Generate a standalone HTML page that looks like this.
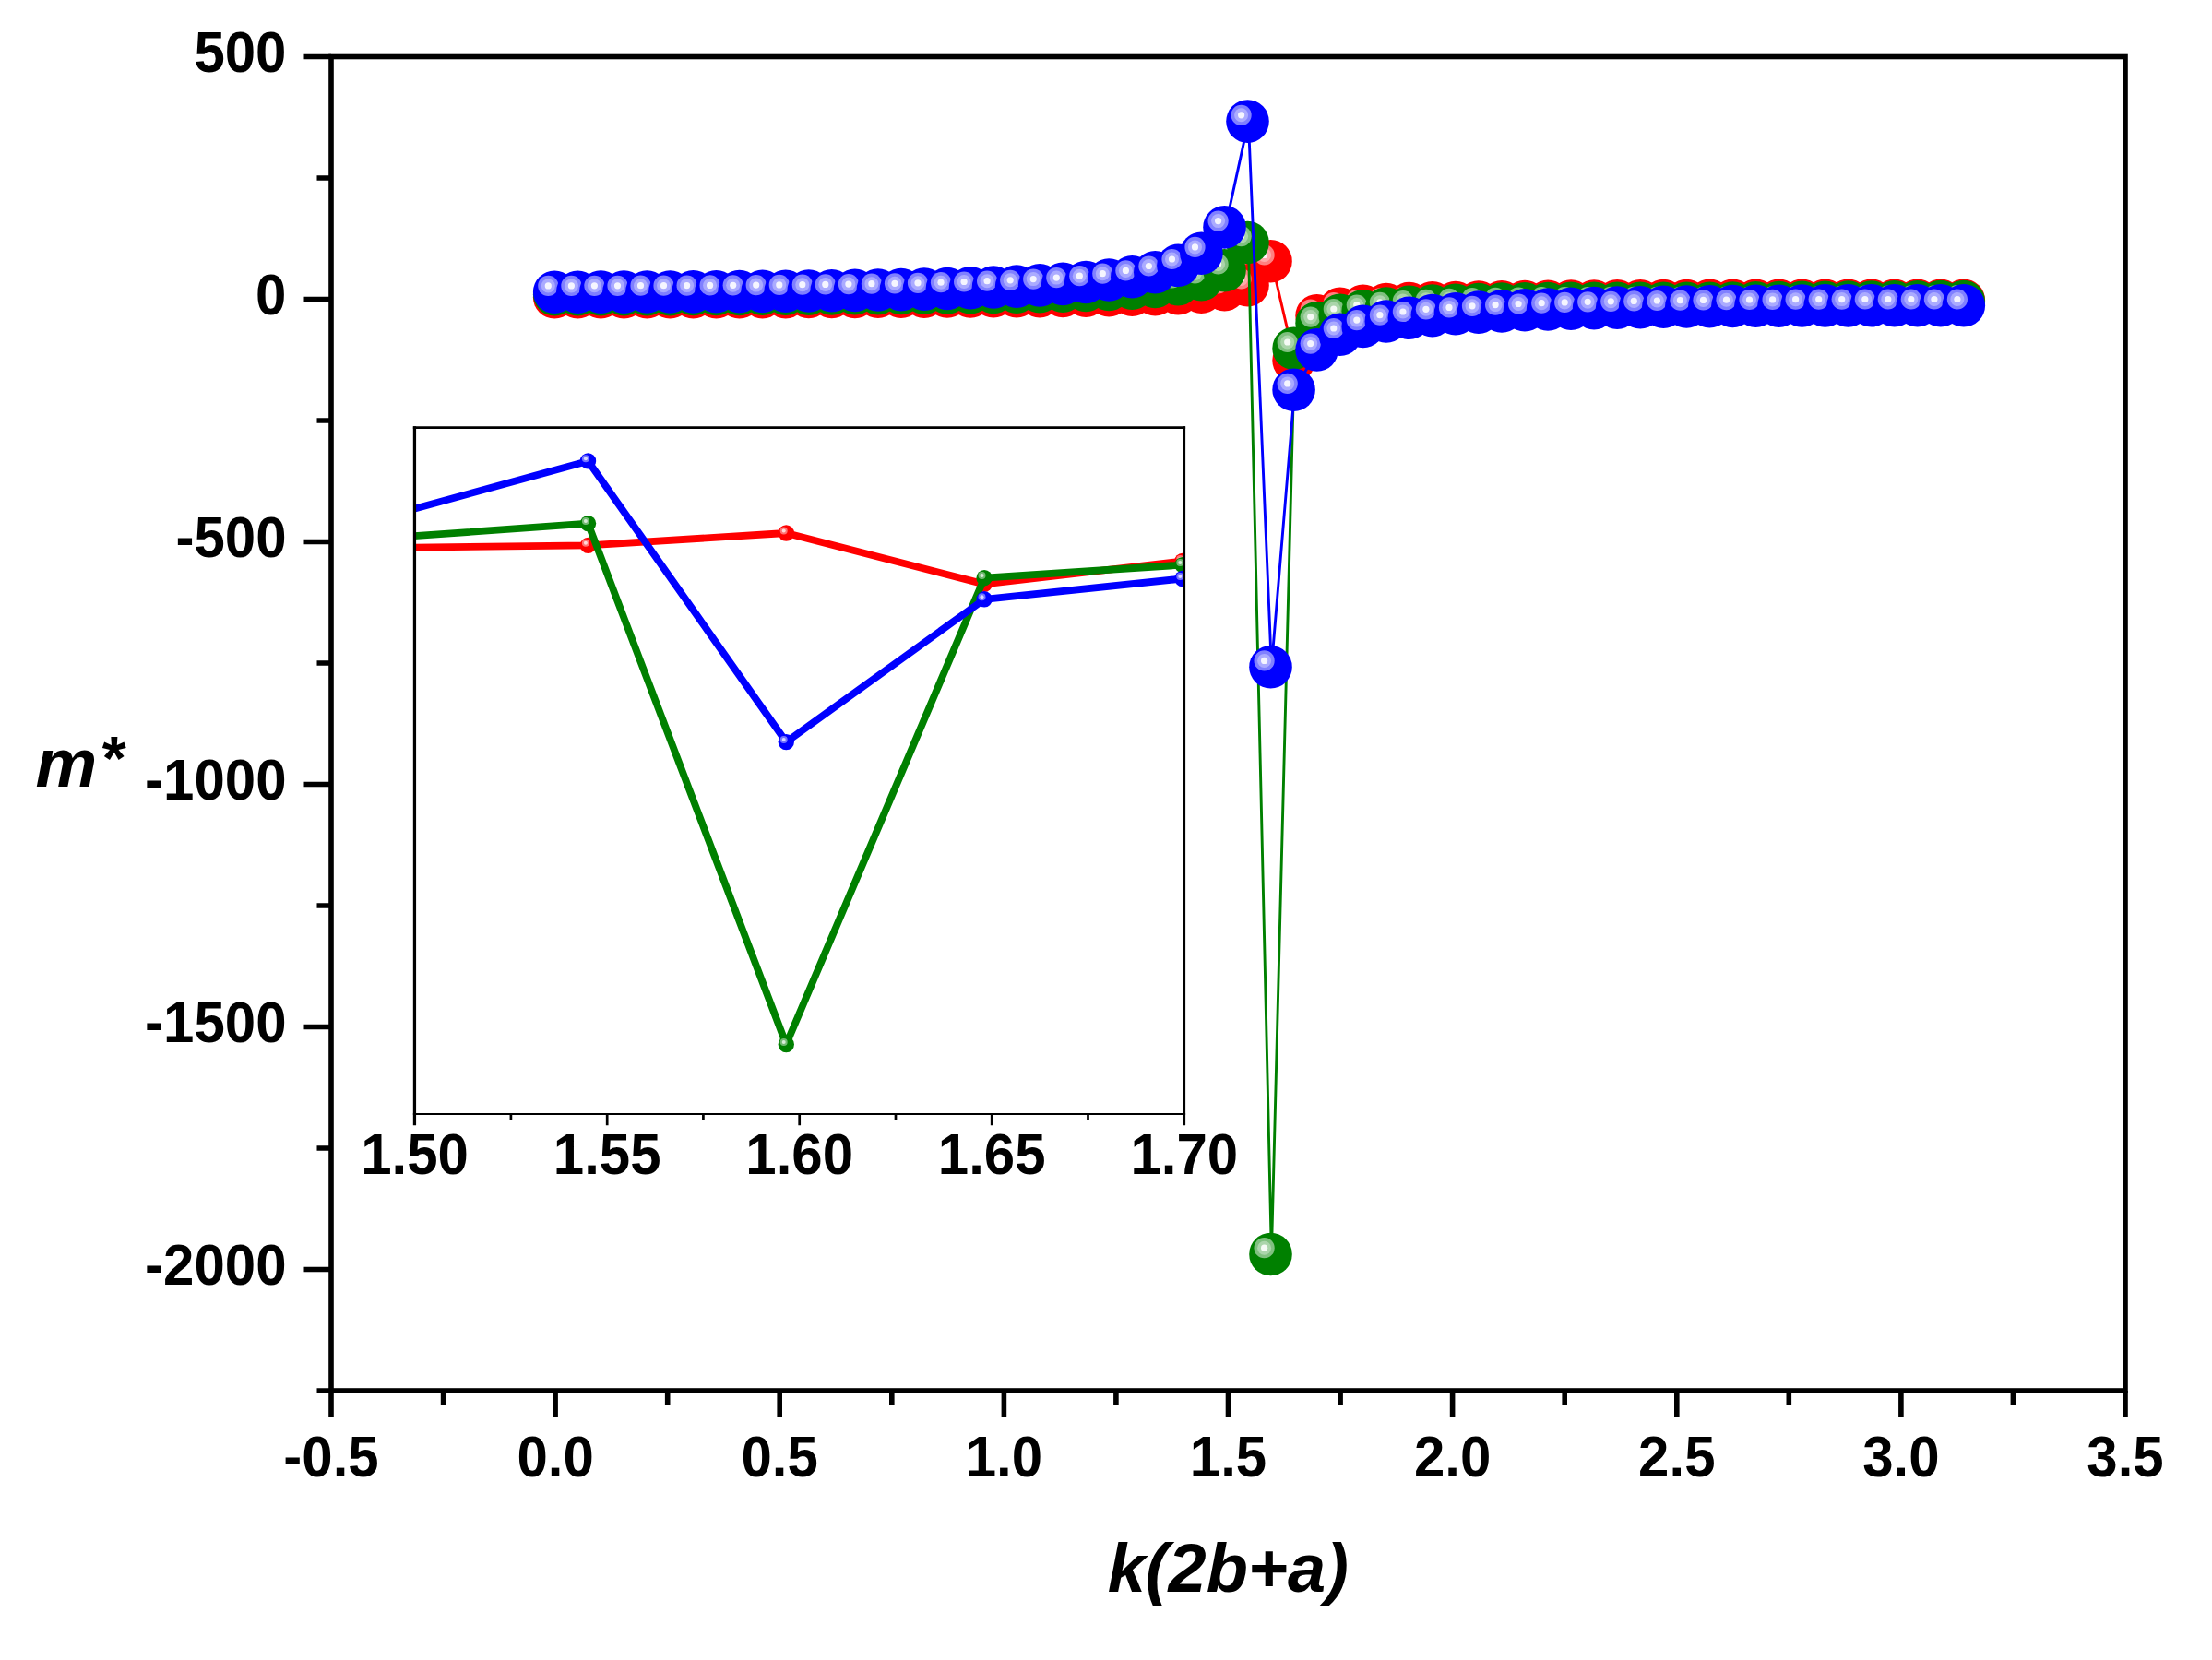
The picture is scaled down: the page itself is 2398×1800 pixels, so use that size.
<!DOCTYPE html>
<html lang="en"><head><meta charset="utf-8"><title>m* versus k(2b+a)</title>
<style>
html,body{margin:0;padding:0;background:#fff;}
body{width:2398px;height:1800px;overflow:hidden;}
svg{display:block;}
text{font-family:"Liberation Sans",Arial,Helvetica,sans-serif;font-weight:bold;fill:#000;}
.tk{font-size:60px;}
.ti{font-size:75px;font-style:italic;}
.ax{stroke:#000;fill:none;stroke-linecap:butt;}
</style></head><body>
<svg width="2398" height="1800" viewBox="0 0 2398 1800">
<rect x="0" y="0" width="2398" height="1800" fill="#fff"/>
<defs>
<g id="Br">
<circle r="23.3" fill="#ff0000"/>
<circle cx="-6.9" cy="-6.8" r="11.1" fill="#ff8080"/>
<circle cx="-6.9" cy="-6.8" r="7.5" fill="#ffabab"/>
<circle cx="-6.9" cy="-6.8" r="3.6" fill="#fff5f5"/>
</g>
<g id="Sr">
<circle r="8.7" fill="#ff0000"/>
<circle cx="-2.6" cy="-2.6" r="4.0" fill="#ff7373"/>
<circle cx="-2.6" cy="-2.6" r="2.0" fill="#ffd9d9"/>
</g>
<g id="Bg">
<circle r="23.3" fill="#008000"/>
<circle cx="-6.9" cy="-6.8" r="11.1" fill="#80c080"/>
<circle cx="-6.9" cy="-6.8" r="7.5" fill="#abd5ab"/>
<circle cx="-6.9" cy="-6.8" r="3.6" fill="#f5faf5"/>
</g>
<g id="Sg">
<circle r="8.7" fill="#008000"/>
<circle cx="-2.6" cy="-2.6" r="4.0" fill="#73b973"/>
<circle cx="-2.6" cy="-2.6" r="2.0" fill="#d9ecd9"/>
</g>
<g id="Bb">
<circle r="23.3" fill="#0000ff"/>
<circle cx="-6.9" cy="-6.8" r="11.1" fill="#8080ff"/>
<circle cx="-6.9" cy="-6.8" r="7.5" fill="#ababff"/>
<circle cx="-6.9" cy="-6.8" r="3.6" fill="#f5f5ff"/>
</g>
<g id="Sb">
<circle r="8.7" fill="#0000ff"/>
<circle cx="-2.6" cy="-2.6" r="4.0" fill="#7373ff"/>
<circle cx="-2.6" cy="-2.6" r="2.0" fill="#d9d9ff"/>
</g>
<clipPath id="cm"><rect x="359.0" y="61.5" width="1945.0" height="1446.5"/></clipPath>
<clipPath id="ci"><rect x="449.6" y="463.0" width="834.2" height="744.5"/></clipPath>
</defs>
<g clip-path="url(#cm)">
<polyline points="602.1,322.3 627.2,322.3 652.2,322.3 677.3,322.3 702.3,322.3 727.3,322.3 752.4,322.2 777.4,322.2 802.5,322.2 827.5,322.1 852.6,322.1 877.6,322.0 902.6,322.0 927.7,321.9 952.7,321.8 977.8,321.7 1002.8,321.6 1027.8,321.5 1052.9,321.4 1077.9,321.3 1103.0,321.2 1128.0,321.1 1153.1,320.9 1178.1,320.6 1203.1,320.3 1228.2,319.8 1253.2,319.2 1278.3,318.2 1303.3,316.7 1328.4,314.1 1353.4,309.2 1378.4,283.2 1403.5,390.8 1428.5,342.4 1453.6,334.9 1478.6,331.8 1503.7,330.1 1528.7,329.1 1553.7,328.4 1578.8,328.0 1603.8,327.6 1628.9,327.3 1653.9,327.0 1679.0,326.8 1704.0,326.6 1729.0,326.5 1754.1,326.3 1779.1,326.2 1804.2,326.1 1829.2,326.0 1854.3,325.9 1879.3,325.9 1904.3,325.8 1929.4,325.8 1954.4,325.8 1979.5,325.7 2004.5,325.7 2029.6,325.7 2054.6,325.7 2079.6,325.7 2104.7,325.7 2129.7,325.7" fill="none" stroke="#ff0000" stroke-width="2.9" stroke-linejoin="round"/>
<use href="#Br" x="601.2" y="322.3"/>
<use href="#Br" x="626.3" y="322.3"/>
<use href="#Br" x="651.3" y="322.3"/>
<use href="#Br" x="676.4" y="322.3"/>
<use href="#Br" x="701.4" y="322.3"/>
<use href="#Br" x="726.4" y="322.3"/>
<use href="#Br" x="751.5" y="322.2"/>
<use href="#Br" x="776.5" y="322.2"/>
<use href="#Br" x="801.6" y="322.2"/>
<use href="#Br" x="826.6" y="322.1"/>
<use href="#Br" x="851.7" y="322.1"/>
<use href="#Br" x="876.7" y="322.0"/>
<use href="#Br" x="901.7" y="322.0"/>
<use href="#Br" x="926.8" y="321.9"/>
<use href="#Br" x="951.8" y="321.8"/>
<use href="#Br" x="976.9" y="321.7"/>
<use href="#Br" x="1001.9" y="321.6"/>
<use href="#Br" x="1026.9" y="321.5"/>
<use href="#Br" x="1052.0" y="321.4"/>
<use href="#Br" x="1077.0" y="321.3"/>
<use href="#Br" x="1102.1" y="321.2"/>
<use href="#Br" x="1127.1" y="321.1"/>
<use href="#Br" x="1152.2" y="320.9"/>
<use href="#Br" x="1177.2" y="320.6"/>
<use href="#Br" x="1202.2" y="320.3"/>
<use href="#Br" x="1227.3" y="319.8"/>
<use href="#Br" x="1252.3" y="319.2"/>
<use href="#Br" x="1277.4" y="318.2"/>
<use href="#Br" x="1302.4" y="316.7"/>
<use href="#Br" x="1327.5" y="314.1"/>
<use href="#Br" x="1352.5" y="309.2"/>
<use href="#Br" x="1377.5" y="283.2"/>
<use href="#Br" x="1402.6" y="390.8"/>
<use href="#Br" x="1427.6" y="342.4"/>
<use href="#Br" x="1452.7" y="334.9"/>
<use href="#Br" x="1477.7" y="331.8"/>
<use href="#Br" x="1502.8" y="330.1"/>
<use href="#Br" x="1527.8" y="329.1"/>
<use href="#Br" x="1552.8" y="328.4"/>
<use href="#Br" x="1577.9" y="328.0"/>
<use href="#Br" x="1602.9" y="327.6"/>
<use href="#Br" x="1628.0" y="327.3"/>
<use href="#Br" x="1653.0" y="327.0"/>
<use href="#Br" x="1678.1" y="326.8"/>
<use href="#Br" x="1703.1" y="326.6"/>
<use href="#Br" x="1728.1" y="326.5"/>
<use href="#Br" x="1753.2" y="326.3"/>
<use href="#Br" x="1778.2" y="326.2"/>
<use href="#Br" x="1803.3" y="326.1"/>
<use href="#Br" x="1828.3" y="326.0"/>
<use href="#Br" x="1853.4" y="325.9"/>
<use href="#Br" x="1878.4" y="325.9"/>
<use href="#Br" x="1903.4" y="325.8"/>
<use href="#Br" x="1928.5" y="325.8"/>
<use href="#Br" x="1953.5" y="325.8"/>
<use href="#Br" x="1978.6" y="325.7"/>
<use href="#Br" x="2003.6" y="325.7"/>
<use href="#Br" x="2028.7" y="325.7"/>
<use href="#Br" x="2053.7" y="325.7"/>
<use href="#Br" x="2078.7" y="325.7"/>
<use href="#Br" x="2103.8" y="325.7"/>
<use href="#Br" x="2128.8" y="325.7"/>
<polyline points="602.1,319.2 627.2,319.2 652.2,319.2 677.3,319.1 702.3,319.1 727.3,319.1 752.4,319.0 777.4,318.9 802.5,318.9 827.5,318.8 852.6,318.7 877.6,318.6 902.6,318.4 927.7,318.3 952.7,318.1 977.8,317.9 1002.8,317.7 1027.8,317.4 1052.9,317.2 1077.9,316.9 1103.0,316.6 1128.0,316.2 1153.1,315.7 1178.1,315.0 1203.1,314.0 1228.2,312.8 1253.2,310.9 1278.3,308.1 1303.3,303.2 1328.4,293.2 1353.4,263.0 1378.4,1360.0 1403.5,377.8 1428.5,350.4 1453.6,341.8 1478.6,337.3 1503.7,334.6 1528.7,332.8 1553.7,331.6 1578.8,330.7 1603.8,330.0 1628.9,329.6 1653.9,329.3 1679.0,329.0 1704.0,328.9 1729.0,328.8 1754.1,328.7 1779.1,328.7 1804.2,328.7 1829.2,328.7 1854.3,328.7 1879.3,328.5 1904.3,328.3 1929.4,328.1 1954.4,327.9 1979.5,327.8 2004.5,327.6 2029.6,327.5 2054.6,327.4 2079.6,327.2 2104.7,327.1 2129.7,327.0" fill="none" stroke="#008000" stroke-width="2.9" stroke-linejoin="round"/>
<use href="#Bg" x="601.2" y="319.2"/>
<use href="#Bg" x="626.3" y="319.2"/>
<use href="#Bg" x="651.3" y="319.2"/>
<use href="#Bg" x="676.4" y="319.1"/>
<use href="#Bg" x="701.4" y="319.1"/>
<use href="#Bg" x="726.4" y="319.1"/>
<use href="#Bg" x="751.5" y="319.0"/>
<use href="#Bg" x="776.5" y="318.9"/>
<use href="#Bg" x="801.6" y="318.9"/>
<use href="#Bg" x="826.6" y="318.8"/>
<use href="#Bg" x="851.7" y="318.7"/>
<use href="#Bg" x="876.7" y="318.6"/>
<use href="#Bg" x="901.7" y="318.4"/>
<use href="#Bg" x="926.8" y="318.3"/>
<use href="#Bg" x="951.8" y="318.1"/>
<use href="#Bg" x="976.9" y="317.9"/>
<use href="#Bg" x="1001.9" y="317.7"/>
<use href="#Bg" x="1026.9" y="317.4"/>
<use href="#Bg" x="1052.0" y="317.2"/>
<use href="#Bg" x="1077.0" y="316.9"/>
<use href="#Bg" x="1102.1" y="316.6"/>
<use href="#Bg" x="1127.1" y="316.2"/>
<use href="#Bg" x="1152.2" y="315.7"/>
<use href="#Bg" x="1177.2" y="315.0"/>
<use href="#Bg" x="1202.2" y="314.0"/>
<use href="#Bg" x="1227.3" y="312.8"/>
<use href="#Bg" x="1252.3" y="310.9"/>
<use href="#Bg" x="1277.4" y="308.1"/>
<use href="#Bg" x="1302.4" y="303.2"/>
<use href="#Bg" x="1327.5" y="293.2"/>
<use href="#Bg" x="1352.5" y="263.0"/>
<use href="#Bg" x="1377.5" y="1360.0"/>
<use href="#Bg" x="1402.6" y="377.8"/>
<use href="#Bg" x="1427.6" y="350.4"/>
<use href="#Bg" x="1452.7" y="341.8"/>
<use href="#Bg" x="1477.7" y="337.3"/>
<use href="#Bg" x="1502.8" y="334.6"/>
<use href="#Bg" x="1527.8" y="332.8"/>
<use href="#Bg" x="1552.8" y="331.6"/>
<use href="#Bg" x="1577.9" y="330.7"/>
<use href="#Bg" x="1602.9" y="330.0"/>
<use href="#Bg" x="1628.0" y="329.6"/>
<use href="#Bg" x="1653.0" y="329.3"/>
<use href="#Bg" x="1678.1" y="329.0"/>
<use href="#Bg" x="1703.1" y="328.9"/>
<use href="#Bg" x="1728.1" y="328.8"/>
<use href="#Bg" x="1753.2" y="328.7"/>
<use href="#Bg" x="1778.2" y="328.7"/>
<use href="#Bg" x="1803.3" y="328.7"/>
<use href="#Bg" x="1828.3" y="328.7"/>
<use href="#Bg" x="1853.4" y="328.7"/>
<use href="#Bg" x="1878.4" y="328.5"/>
<use href="#Bg" x="1903.4" y="328.3"/>
<use href="#Bg" x="1928.5" y="328.1"/>
<use href="#Bg" x="1953.5" y="327.9"/>
<use href="#Bg" x="1978.6" y="327.8"/>
<use href="#Bg" x="2003.6" y="327.6"/>
<use href="#Bg" x="2028.7" y="327.5"/>
<use href="#Bg" x="2053.7" y="327.4"/>
<use href="#Bg" x="2078.7" y="327.2"/>
<use href="#Bg" x="2103.8" y="327.1"/>
<use href="#Bg" x="2128.8" y="327.0"/>
<polyline points="602.1,316.7 627.2,316.7 652.2,316.6 677.3,316.6 702.3,316.5 727.3,316.5 752.4,316.4 777.4,316.2 802.5,316.1 827.5,315.9 852.6,315.7 877.6,315.5 902.6,315.2 927.7,314.9 952.7,314.5 977.8,314.1 1002.8,313.6 1027.8,313.0 1052.9,312.3 1077.9,311.5 1103.0,310.6 1128.0,309.4 1153.1,307.9 1178.1,306.0 1203.1,303.5 1228.2,300.2 1253.2,295.3 1278.3,287.8 1303.3,274.7 1328.4,246.4 1353.4,131.6 1378.4,723.2 1403.5,422.7 1428.5,379.4 1453.6,362.8 1478.6,353.9 1503.7,348.5 1528.7,344.8 1553.7,342.1 1578.8,340.2 1603.8,338.6 1628.9,337.4 1653.9,336.3 1679.0,335.5 1704.0,334.7 1729.0,334.1 1754.1,333.6 1779.1,333.2 1804.2,332.8 1829.2,332.5 1854.3,332.2 1879.3,332.0 1904.3,331.8 1929.4,331.7 1954.4,331.5 1979.5,331.4 2004.5,331.4 2029.6,331.3 2054.6,331.3 2079.6,331.3 2104.7,331.3 2129.7,331.3" fill="none" stroke="#0000ff" stroke-width="2.9" stroke-linejoin="round"/>
<use href="#Bb" x="601.2" y="316.7"/>
<use href="#Bb" x="626.3" y="316.7"/>
<use href="#Bb" x="651.3" y="316.6"/>
<use href="#Bb" x="676.4" y="316.6"/>
<use href="#Bb" x="701.4" y="316.5"/>
<use href="#Bb" x="726.4" y="316.5"/>
<use href="#Bb" x="751.5" y="316.4"/>
<use href="#Bb" x="776.5" y="316.2"/>
<use href="#Bb" x="801.6" y="316.1"/>
<use href="#Bb" x="826.6" y="315.9"/>
<use href="#Bb" x="851.7" y="315.7"/>
<use href="#Bb" x="876.7" y="315.5"/>
<use href="#Bb" x="901.7" y="315.2"/>
<use href="#Bb" x="926.8" y="314.9"/>
<use href="#Bb" x="951.8" y="314.5"/>
<use href="#Bb" x="976.9" y="314.1"/>
<use href="#Bb" x="1001.9" y="313.6"/>
<use href="#Bb" x="1026.9" y="313.0"/>
<use href="#Bb" x="1052.0" y="312.3"/>
<use href="#Bb" x="1077.0" y="311.5"/>
<use href="#Bb" x="1102.1" y="310.6"/>
<use href="#Bb" x="1127.1" y="309.4"/>
<use href="#Bb" x="1152.2" y="307.9"/>
<use href="#Bb" x="1177.2" y="306.0"/>
<use href="#Bb" x="1202.2" y="303.5"/>
<use href="#Bb" x="1227.3" y="300.2"/>
<use href="#Bb" x="1252.3" y="295.3"/>
<use href="#Bb" x="1277.4" y="287.8"/>
<use href="#Bb" x="1302.4" y="274.7"/>
<use href="#Bb" x="1327.5" y="246.4"/>
<use href="#Bb" x="1352.5" y="131.6"/>
<use href="#Bb" x="1377.5" y="723.2"/>
<use href="#Bb" x="1402.6" y="422.7"/>
<use href="#Bb" x="1427.6" y="379.4"/>
<use href="#Bb" x="1452.7" y="362.8"/>
<use href="#Bb" x="1477.7" y="353.9"/>
<use href="#Bb" x="1502.8" y="348.5"/>
<use href="#Bb" x="1527.8" y="344.8"/>
<use href="#Bb" x="1552.8" y="342.1"/>
<use href="#Bb" x="1577.9" y="340.2"/>
<use href="#Bb" x="1602.9" y="338.6"/>
<use href="#Bb" x="1628.0" y="337.4"/>
<use href="#Bb" x="1653.0" y="336.3"/>
<use href="#Bb" x="1678.1" y="335.5"/>
<use href="#Bb" x="1703.1" y="334.7"/>
<use href="#Bb" x="1728.1" y="334.1"/>
<use href="#Bb" x="1753.2" y="333.6"/>
<use href="#Bb" x="1778.2" y="333.2"/>
<use href="#Bb" x="1803.3" y="332.8"/>
<use href="#Bb" x="1828.3" y="332.5"/>
<use href="#Bb" x="1853.4" y="332.2"/>
<use href="#Bb" x="1878.4" y="332.0"/>
<use href="#Bb" x="1903.4" y="331.8"/>
<use href="#Bb" x="1928.5" y="331.7"/>
<use href="#Bb" x="1953.5" y="331.5"/>
<use href="#Bb" x="1978.6" y="331.4"/>
<use href="#Bb" x="2003.6" y="331.4"/>
<use href="#Bb" x="2028.7" y="331.3"/>
<use href="#Bb" x="2053.7" y="331.3"/>
<use href="#Bb" x="2078.7" y="331.3"/>
<use href="#Bb" x="2103.8" y="331.3"/>
<use href="#Bb" x="2128.8" y="331.3"/>
</g>
<rect x="449.6" y="463.0" width="834.2" height="744.5" fill="#fff"/>
<g clip-path="url(#ci)">
<polyline points="-7.0,596.0 207.9,595.3 422.7,593.9 637.5,591.4 852.3,578.0 1067.1,633.4 1281.9,608.5 1496.7,604.6 1711.5,603.0 1926.4,602.1" fill="none" stroke="#ff0000" stroke-width="7.8" stroke-linejoin="round"/>
<use href="#Sr" x="-7.0" y="596.0"/>
<use href="#Sr" x="207.9" y="595.3"/>
<use href="#Sr" x="422.7" y="593.9"/>
<use href="#Sr" x="637.5" y="591.4"/>
<use href="#Sr" x="852.3" y="578.0"/>
<use href="#Sr" x="1067.1" y="633.4"/>
<use href="#Sr" x="1281.9" y="608.5"/>
<use href="#Sr" x="1496.7" y="604.6"/>
<use href="#Sr" x="1711.5" y="603.0"/>
<use href="#Sr" x="1926.4" y="602.1"/>
<polyline points="-7.0,590.8 207.9,588.3 422.7,583.1 637.5,567.6 852.3,1132.5 1067.1,626.7 1281.9,612.6 1496.7,608.2 1711.5,605.8 1926.4,604.4" fill="none" stroke="#008000" stroke-width="7.8" stroke-linejoin="round"/>
<use href="#Sg" x="-7.0" y="590.8"/>
<use href="#Sg" x="207.9" y="588.3"/>
<use href="#Sg" x="422.7" y="583.1"/>
<use href="#Sg" x="637.5" y="567.6"/>
<use href="#Sg" x="852.3" y="1132.5"/>
<use href="#Sg" x="1067.1" y="626.7"/>
<use href="#Sg" x="1281.9" y="612.6"/>
<use href="#Sg" x="1496.7" y="608.2"/>
<use href="#Sg" x="1711.5" y="605.8"/>
<use href="#Sg" x="1926.4" y="604.4"/>
<polyline points="-7.0,580.4 207.9,573.6 422.7,559.0 637.5,499.9 852.3,804.6 1067.1,649.8 1281.9,627.5 1496.7,619.0 1711.5,614.4 1926.4,611.6" fill="none" stroke="#0000ff" stroke-width="7.8" stroke-linejoin="round"/>
<use href="#Sb" x="-7.0" y="580.4"/>
<use href="#Sb" x="207.9" y="573.6"/>
<use href="#Sb" x="422.7" y="559.0"/>
<use href="#Sb" x="637.5" y="499.9"/>
<use href="#Sb" x="852.3" y="804.6"/>
<use href="#Sb" x="1067.1" y="649.8"/>
<use href="#Sb" x="1281.9" y="627.5"/>
<use href="#Sb" x="1496.7" y="619.0"/>
<use href="#Sb" x="1711.5" y="614.4"/>
<use href="#Sb" x="1926.4" y="611.6"/>
</g>
<path class="ax" d="M447.85 463.60H1285.10" stroke-width="2.9"/>
<path class="ax" d="M447.85 1207.95H1285.10" stroke-width="1.9"/>
<path class="ax" d="M449.45 462.20V1220.25" stroke-width="3.25"/>
<path class="ax" d="M1284.00 462.20V1220.25" stroke-width="2.2"/>
<path class="ax" d="M553.9 1208.0V1214.8M658.2 1208.0V1220.2M762.4 1208.0V1214.8M866.7 1208.0V1220.2M971.0 1208.0V1214.8M1075.2 1208.0V1220.2M1179.5 1208.0V1214.8" stroke-width="2.7"/>
<text class="tk" transform="translate(449.6 1272.5) scale(1 1.045)" text-anchor="middle">1.50</text>
<text class="tk" transform="translate(658.2 1272.5) scale(1 1.045)" text-anchor="middle">1.55</text>
<text class="tk" transform="translate(866.7 1272.5) scale(1 1.045)" text-anchor="middle">1.60</text>
<text class="tk" transform="translate(1075.2 1272.5) scale(1 1.045)" text-anchor="middle">1.65</text>
<text class="tk" transform="translate(1283.8 1272.5) scale(1 1.045)" text-anchor="middle">1.70</text>
<rect class="ax" x="359.0" y="61.5" width="1945.0" height="1446.5" stroke-width="5.6"/>
<path class="ax" d="M359.0 1508.0V1537.0M480.6 1508.0V1523.5M602.1 1508.0V1537.0M723.7 1508.0V1523.5M845.2 1508.0V1537.0M966.8 1508.0V1523.5M1088.4 1508.0V1537.0M1209.9 1508.0V1523.5M1331.5 1508.0V1537.0M1453.1 1508.0V1523.5M1574.6 1508.0V1537.0M1696.2 1508.0V1523.5M1817.8 1508.0V1537.0M1939.3 1508.0V1523.5M2060.9 1508.0V1537.0M2182.4 1508.0V1523.5M2304.0 1508.0V1537.0M359.0 61.5H329.5M359.0 193.0H343.5M359.0 324.5H329.5M359.0 456.0H343.5M359.0 587.5H329.5M359.0 719.0H343.5M359.0 850.5H329.5M359.0 982.0H343.5M359.0 1113.5H329.5M359.0 1245.0H343.5M359.0 1376.5H329.5M359.0 1508.0H343.5" stroke-width="5.6"/>
<text class="tk" transform="translate(359.0 1601.3) scale(1 1.045)" text-anchor="middle">-0.5</text>
<text class="tk" transform="translate(602.1 1601.3) scale(1 1.045)" text-anchor="middle">0.0</text>
<text class="tk" transform="translate(845.2 1601.3) scale(1 1.045)" text-anchor="middle">0.5</text>
<text class="tk" transform="translate(1088.4 1601.3) scale(1 1.045)" text-anchor="middle">1.0</text>
<text class="tk" transform="translate(1331.5 1601.3) scale(1 1.045)" text-anchor="middle">1.5</text>
<text class="tk" transform="translate(1574.6 1601.3) scale(1 1.045)" text-anchor="middle">2.0</text>
<text class="tk" transform="translate(1817.8 1601.3) scale(1 1.045)" text-anchor="middle">2.5</text>
<text class="tk" transform="translate(2060.9 1601.3) scale(1 1.045)" text-anchor="middle">3.0</text>
<text class="tk" transform="translate(2304.0 1601.3) scale(1 1.045)" text-anchor="middle">3.5</text>
<text class="tk" transform="translate(310.5 77.7) scale(1 1.045)" text-anchor="end">500</text>
<text class="tk" transform="translate(310.5 340.7) scale(1 1.045)" text-anchor="end">0</text>
<text class="tk" transform="translate(310.5 603.7) scale(1 1.045)" text-anchor="end">-500</text>
<text class="tk" transform="translate(310.5 866.7) scale(1 1.045)" text-anchor="end">-1000</text>
<text class="tk" transform="translate(310.5 1129.7) scale(1 1.045)" text-anchor="end">-1500</text>
<text class="tk" transform="translate(310.5 1392.7) scale(1 1.045)" text-anchor="end">-2000</text>
<text class="ti" x="38.5" y="853">m<tspan font-size="67" dx="2.9" dy="-8.3">*</tspan></text>
<text class="ti" transform="translate(1331.3 1726) scale(0.987 1)" text-anchor="middle">k(2b+a)</text>
</svg>
</body></html>
